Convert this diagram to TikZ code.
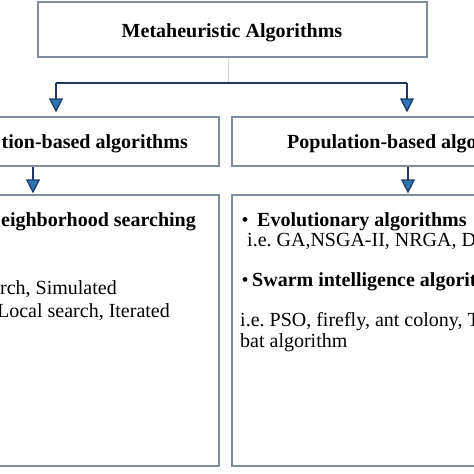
\documentclass[tikz,border=0pt]{standalone}
\usepackage{fontspec}
\setmainfont{Liberation Serif}
\usetikzlibrary{arrows.meta}
\definecolor{boxgray}{RGB}{128,142,158}
\definecolor{linkgray}{RGB}{205,210,215}
\definecolor{navy}{RGB}{30,55,100}
\definecolor{tipblue}{RGB}{46,117,182}
\frenchspacing

\begin{document}
\begin{tikzpicture}[x=1pt,y=-1pt,shorten >=1pt,font=\fontsize{20}{24}\selectfont]
	\tikzstyle{box}=[draw=boxgray,line width=1.2pt,rectangle,inner sep=0pt]
	\tikzstyle{txt}=[inner sep=0pt]
	\tikzstyle{head}=[txt,font=\fontsize{20}{24}\selectfont\bfseries]
	\tikzstyle{link}=[draw=navy,line width=1.3pt]
	\tikzstyle{down}=[link,-{Triangle[width=14pt,length=14pt,fill=tipblue]}]

	\useasboundingbox (0,0) rectangle (474,474);
	\clip (0,0) rectangle (474,474);

	\node[box,minimum width=389pt,minimum height=55pt](meta) at (232.5,29.5){};
	\node[head,anchor=base](metatxt) at (232,37){Metaheuristic Algorithms};

	\node[box,minimum width=224pt,minimum height=49pt](single) at (107,141.5){};
	\node[head,anchor=base east](singletxt) at (188,148){tion-based algorithms};

	\node[box,minimum width=248pt,minimum height=49pt](pop) at (356,141.5){};
	\node[head,anchor=base west](poptxt) at (287,148){Population-based algo};

	\node[box,minimum width=224pt,minimum height=271pt](nbox) at (107,330.5){};
	\node[head,anchor=base east](nb) at (196,226){eighborhood searching};
	\node[txt,anchor=base east](nb1) at (117,294){rch, Simulated};
	\node[txt,anchor=base east](nb2) at (170,317){Local search, Iterated};

	\node[box,minimum width=248pt,minimum height=271pt](pbox) at (356,330.5){};
	\node[txt,anchor=base](b1) at (245,226){\textbullet};
	\node[head,anchor=base west](evo) at (257,226){Evolutionary algorithms};
	\node[txt,anchor=base west](evo1) at (247,246){i.e. GA,NSGA-II, NRGA, D};
	\node[txt,anchor=base](b2) at (245,286){\textbullet};
	\node[head,anchor=base west](swarm) at (252,286){Swarm intelligence algorit};
	\node[txt,anchor=base west](swarm1) at (240,326){i.e. PSO, firefly, ant colony, T};
	\node[txt,anchor=base west](swarm2) at (240,347){bat algorithm};

	\coordinate (split) at (228,83);
	\coordinate (lsplit) at (56,83);
	\coordinate (rsplit) at (407,83);

	\draw[draw=linkgray,line width=1pt,shorten >=0pt] (meta.south -| split) -- (split);
	\draw[link,shorten >=0pt] (lsplit) -- (rsplit);
	\draw[down,shorten >=4pt] (lsplit) -- (lsplit |- single.north);
	\draw[down,shorten >=4pt] (rsplit) -- (rsplit |- pop.north);
	\draw[down] ([xshift=-74pt]single.south) -- ([xshift=-74pt]nbox.north);
	\draw[down] ([xshift=52pt]pop.south) -- ([xshift=52pt]pbox.north);

\end{tikzpicture}
\end{document}
